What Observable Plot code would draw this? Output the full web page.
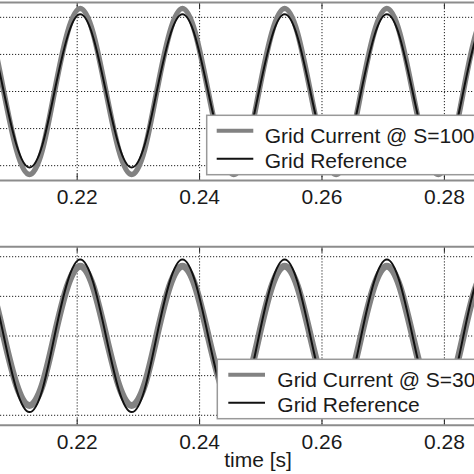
<!DOCTYPE html>
<html><head><meta charset="utf-8">
<script src="https://cdn.jsdelivr.net/npm/d3@7"></script>
<script src="https://cdn.jsdelivr.net/npm/@observablehq/plot@0.6"></script>
<style>
html,body{margin:0;padding:0;background:#fff;}
#wrap{position:relative;width:474px;height:474px;overflow:hidden;background:#fff;font-family:"Liberation Sans",Arial,sans-serif;}
#wrap svg{position:absolute;left:0;}
</style>
</head><body>
<div id="wrap"></div>
<script>
// ---- data ----
const time = [0.2038,0.2059,0.2080,0.2101,0.2122,0.2143,0.2163,0.2184,
  0.2205,0.2226,0.2247,0.2268,0.2289,0.2310,0.2330,0.2351,
  0.2372,0.2393,0.2414,0.2435,0.2456,0.2477,0.2497,0.2518,
  0.2539,0.2560,0.2581,0.2602,0.2623,0.2644,0.2664,0.2685,
  0.2706,0.2727,0.2748,0.2769,0.2790,0.2811,0.2831,0.2852,0.2873];
const topCurrent = [22.4,15.8,0,-15.8,-22.4,-15.8,0,15.8,
  22.4,15.8,0,-15.8,-22.4,-15.8,0,15.8,
  22.4,15.8,0,-15.8,-22.4,-15.8,0,15.8,
  22.4,15.8,0,-15.8,-22.4,-15.8,0,15.8,
  22.4,15.8,0,-15.8,-22.4,-15.8,0,15.8,22.4];
const topReference = [20.8,14.7,0,-14.5,-20.5,-14.5,0,14.7,
  20.8,14.7,0,-14.5,-20.5,-14.5,0,14.7,
  20.8,14.7,0,-14.5,-20.5,-14.5,0,14.7,
  20.8,14.7,0,-14.5,-20.5,-14.5,0,14.7,
  20.8,14.7,0,-14.5,-20.5,-14.5,0,14.7,20.8];
const bottomCurrent = [17.6,12.5,0,-12.4,-17.5,-12.4,0,12.5,
  17.6,12.5,0,-12.4,-17.5,-12.4,0,12.5,
  17.6,12.5,0,-12.4,-17.5,-12.4,0,12.5,
  17.6,12.5,0,-12.4,-17.5,-12.4,0,12.5,
  17.6,12.5,0,-12.4,-17.5,-12.4,0,12.5,17.6];
const bottomReference = [19.3,13.6,0,-13.6,-19.2,-13.6,0,13.6,
  19.3,13.6,0,-13.6,-19.2,-13.6,0,13.6,
  19.3,13.6,0,-13.6,-19.2,-13.6,0,13.6,
  19.3,13.6,0,-13.6,-19.2,-13.6,0,13.6,
  19.3,13.6,0,-13.6,-19.2,-13.6,0,13.6,19.3];
const xTicks = [0.22, 0.24, 0.26, 0.28];
const xDomain = [0.20747, 0.28492];
const yTicks = [-20, -10, 0, 10, 20];
const topYDomain = [-24, 24];
const bottomYDomain = [-22.5, 22.5];
const legendTop = ["Grid Current @ S=100", "Grid Reference"];
const legendBottom = ["Grid Current @ S=30", "Grid Reference"];
const xLabel = "time [s]";

const FONT = '"Liberation Sans", Arial, sans-serif';
const GRAY = "#828282";
const BLACK = "#111";

function panel(cur, ref, yDomain, h, mt, mb, grayW) {
  const rows = time.map((t, i) => ({t, cur: cur[i], ref: ref[i]}));
  const fh = h - mt - mb;
  return Plot.plot({
    width: 474, height: h,
    marginLeft: 0, marginRight: 0, marginTop: mt, marginBottom: mb,
    style: {fontFamily: FONT, fontSize: "21px", color: "#1a1a1a", background: "transparent", overflow: "visible"},
    x: {domain: xDomain, ticks: xTicks, tickSize: 0, tickPadding: 8.5, tickFormat: d => d.toFixed(2), label: null},
    y: {domain: yDomain, axis: null},
    marks: [
      Plot.gridX(xTicks, {stroke: "#222", strokeOpacity: 1, strokeDasharray: "1.2,1.8"}),
      Plot.gridY(yTicks, {stroke: "#222", strokeOpacity: 1, strokeDasharray: "1.2,1.8"}),
      Plot.ruleX(xTicks, {insetTop: fh - 6, stroke: "#222"}),
      Plot.ruleX(xTicks, {insetBottom: fh - 6, stroke: "#222"}),
      Plot.line(rows, {x: "t", y: "cur", stroke: GRAY, strokeWidth: grayW, curve: "natural", clip: true}),
      Plot.line(rows, {x: "t", y: "ref", stroke: BLACK, strokeWidth: 2, curve: "natural", clip: true}),
      Plot.ruleY([yDomain[0], yDomain[1]], {stroke: "#8c8c8c", strokeWidth: 2})
    ]
  });
}

const wrap = document.getElementById("wrap");
const p1 = panel(topCurrent, topReference, topYDomain, 215, 2, 35, 5.5);
p1.style.top = "0px";
wrap.appendChild(p1);
const p2 = panel(bottomCurrent, bottomReference, bottomYDomain, 259, 31.3, 49.3, 7);
p2.style.top = "215px";
wrap.appendChild(p2);

// overlay: legends and x label
const NS = "http://www.w3.org/2000/svg";
const ov = document.createElementNS(NS, "svg");
ov.setAttribute("width", 474); ov.setAttribute("height", 474);
ov.style.top = "0px";
ov.style.fontFamily = FONT;
function el(tag, attrs, text) {
  const e = document.createElementNS(NS, tag);
  for (const k in attrs) e.setAttribute(k, attrs[k]);
  if (text != null) e.textContent = text;
  ov.appendChild(e);
  return e;
}
function legend(labels, bx, by, lineX0, lineX1, textX) {
  el("rect", {x: bx, y: by, width: 320, height: 59.4, fill: "#fff", stroke: "#999", "stroke-width": 1.5});
  el("line", {x1: lineX0, x2: lineX1, y1: by + 15.4, y2: by + 15.4, stroke: GRAY, "stroke-width": 4});
  el("line", {x1: lineX0, x2: lineX1, y1: by + 43.4, y2: by + 43.4, stroke: BLACK, "stroke-width": 2});
  el("text", {x: textX, y: by + 27.7, "font-size": 21, fill: "#1a1a1a"}, labels[0]);
  el("text", {x: textX, y: by + 52.7, "font-size": 21, fill: "#1a1a1a"}, labels[1]);
}
legend(legendTop, 206.7, 115.3, 216.7, 253.3, 264.7);
legend(legendBottom, 217.3, 359.3, 228.3, 265, 277.3);
el("text", {x: 258, y: 467, "font-size": 21, "text-anchor": "middle", fill: "#1a1a1a"}, xLabel);
wrap.appendChild(ov);
</script>
</body></html>
